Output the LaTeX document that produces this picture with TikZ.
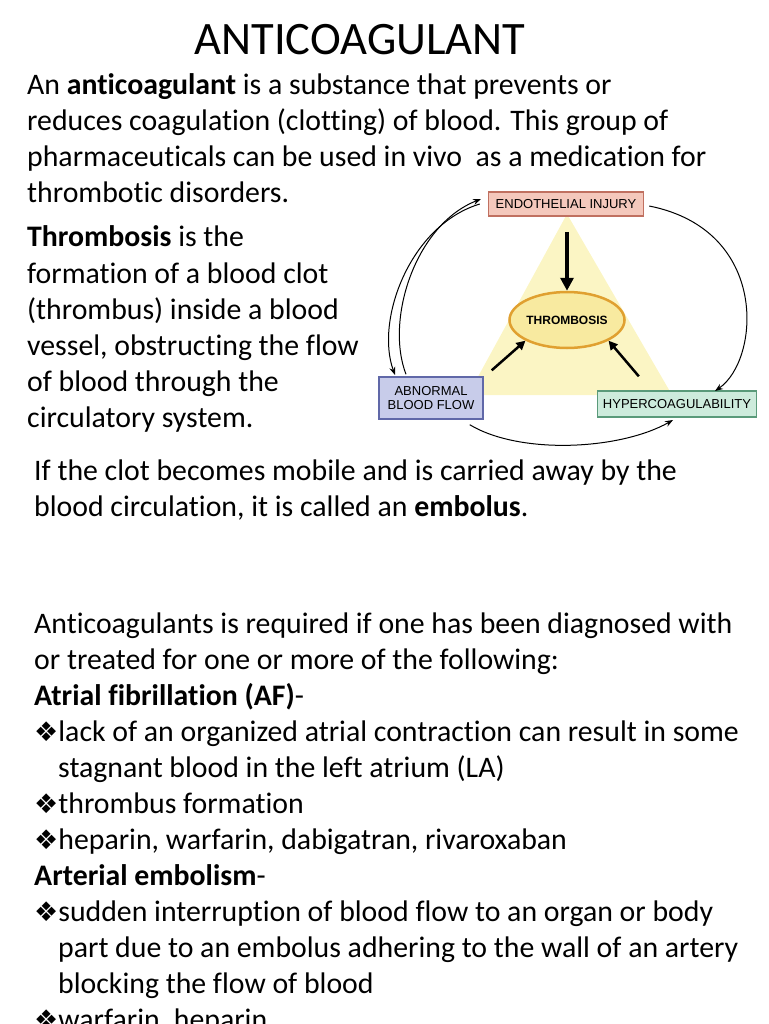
\documentclass[tikz,border=0pt]{standalone}
\usepackage{fontspec}
\setmainfont{Carlito}[Ligatures=NoCommon]
\newfontfamily\diag{Liberation Sans}
\newfontfamily\dejavu{DejaVu Sans}
\newcommand{\dia}{{\dejavu\fontsize{27}{28}\selectfont ❖}}
\usetikzlibrary{arrows.meta,shapes.geometric}
\definecolor{pinkf}{HTML}{F4C8BC}\definecolor{pinkd}{HTML}{C07060}
\definecolor{bluef}{HTML}{C8CCEA}\definecolor{blued}{HTML}{6068A8}
\definecolor{greenf}{HTML}{CDEBDC}\definecolor{greend}{HTML}{5A9A7A}
\definecolor{trif}{HTML}{FBF5C4}\definecolor{ellf}{HTML}{F8EAA0}\definecolor{elld}{HTML}{E0A030}
\begin{document}
\begin{tikzpicture}[x=1pt,y=-1pt,
 body/.style={anchor=base west,inner sep=0pt,font=\fontsize{29.8}{34}\selectfont},
 dbox/.style={draw=#1,line width=1.4pt,inner sep=2pt,font=\diag\fontsize{13}{14}\selectfont,align=center},
 carr/.style={-{Stealth[length=8pt,width=6pt]},line width=1pt}]
\useasboundingbox (0,0) rectangle (768,1024);
\node[anchor=base,inner sep=0pt,font=\fontsize{46.5}{48}\selectfont] (title) at (360,55) {ANTICOAGULANT};
\node[body] (l1) at (27,95) {An \textbf{anticoagulant} is a substance that prevents or};
\node[body] (l2) at (27,131) {reduces coagulation (clotting) of blood. This group of};
\node[body] (l3) at (27,167) {pharmaceuticals can be used in vivo\ \ as a medication for};
\node[body] (l4) at (27,203) {thrombotic disorders.};
\node[body] (t1) at (27,247) {\textbf{Thrombosis} is the};
\node[body] (t2) at (27,283) {formation of a blood clot};
\node[body] (t3) at (27,319) {(thrombus) inside a blood};
\node[body] (t4) at (27,355) {vessel, obstructing the flow};
\node[body] (t5) at (27,391) {of blood through the};
\node[body] (t6) at (27,427) {circulatory system.};
\node[body] (e1) at (34,480) {If the clot becomes mobile and is carried away by the};
\node[body] (e2) at (34,516) {blood circulation, it is called an \textbf{embolus}.};
\node[body] (a1) at (34,633) {Anticoagulants is required if one has been diagnosed with};
\node[body] (a2) at (34,669) {or treated for one or more of the following:};
\node[body] (a3) at (34,705) {\textbf{Atrial fibrillation (AF)}-};
\node[body] (a4) at (34,741) {\dia lack of an organized atrial contraction can result in some};
\node[body] (a5) at (58,777) {stagnant blood in the left atrium (LA)};
\node[body] (a6) at (34,813) {\dia thrombus formation};
\node[body] (a7) at (34,849) {\dia heparin, warfarin, dabigatran, rivaroxaban};
\node[body] (a8) at (34,885) {\textbf{Arterial embolism}-};
\node[body] (a9) at (34,921) {\dia sudden interruption of blood flow to an organ or body};
\node[body] (a10) at (58,957) {part due to an embolus adhering to the wall of an artery};
\node[body] (a11) at (58,993) {blocking the flow of blood};
\node[body] (a12) at (34,1029) {\dia warfarin, heparin};
% diagram
\fill[trif] (567,214) -- (468,395) -- (672,395) -- cycle;
\node[dbox=pinkd,fill=pinkf,minimum width=155pt,minimum height=24pt] (endo) at (566,204) {ENDOTHELIAL INJURY};
\node[dbox=blued,fill=bluef,minimum width=104pt,minimum height=42pt] (abn) at (431,398) {ABNORMAL\\BLOOD FLOW};
\node[dbox=greend,fill=greenf,minimum width=159pt,minimum height=26pt] (hyp) at (677,404) {HYPERCOAGULABILITY};
\node[draw=elld,line width=2.5pt,fill=ellf,ellipse,minimum width=104pt,minimum height=56pt,inner sep=0pt,font=\diag\bfseries\fontsize{12}{13}\selectfont] (thr) at (567,320) {THROMBOSIS};
\coordinate (ea) at (567,232);
\draw[-{Triangle[length=13pt,width=13pt]},line width=4pt] (ea) -- (thr.north);
\draw[-{Triangle[length=9pt,width=9pt]},line width=2.5pt] (abn.north east) ++(8,-6) coordinate (b1) -- (thr.south west);
\draw[-{Triangle[length=9pt,width=9pt]},line width=2.5pt] (hyp.north west) ++(42,-14) coordinate (h1) -- (thr.south east);
\draw[carr] (endo.east) ++(5,2) .. controls (770,230) and (760,360) .. (715,391);
\draw[carr] (abn.south east) ++(-14,5) .. controls (520,455) and (620,450) .. (673,420);
\draw[carr] (endo.west) ++(-8,0) .. controls (410,225) and (375,320) .. (395,375);
\draw[carr] (abn.north) ++(-25,-2) .. controls (385,320) and (415,225) .. (481,199);
\end{tikzpicture}
\end{document}
